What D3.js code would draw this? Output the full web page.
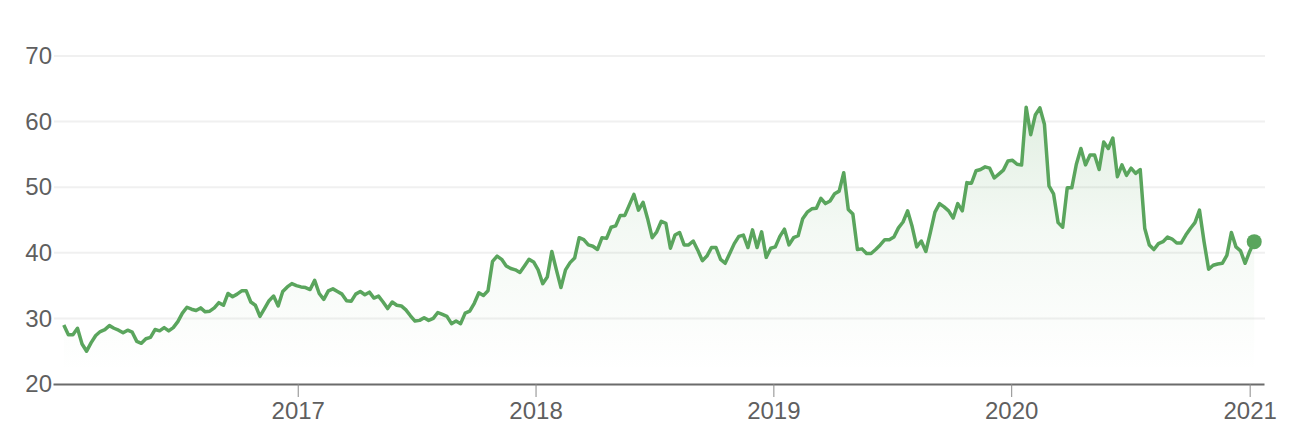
<!DOCTYPE html>
<html>
<head>
<meta charset="utf-8">
<script src="https://cdn.jsdelivr.net/npm/d3@7"></script>
<style>
  body { margin: 0; background: #fff; }
  svg { display: block; font-family: "Liberation Sans", Arial, sans-serif; }
</style>
</head>
<body>
<svg width="1294" height="442"></svg>
<script>
// weekly closes, one Friday per week starting 2016-01-08
const firstWeek = "2016-01-08";
const price2016 = [29.0, 27.5, 27.5, 28.5, 26.1, 25.0, 26.3, 27.4, 28.0, 28.3, 28.9, 28.5, 28.2, 27.8, 28.2, 27.9, 26.5, 26.2, 26.9, 27.1, 28.3, 28.1, 28.6, 28.1, 28.6, 29.5, 30.8, 31.7, 31.4, 31.2, 31.6, 31.0, 31.1, 31.6, 32.4, 32.0, 33.8, 33.3, 33.7, 34.2, 34.2, 32.5, 32.0, 30.3, 31.5, 32.7, 33.4, 31.9, 34.1, 34.8, 35.3, 35.0];
const price2017 = [34.8, 34.7, 34.4, 35.8, 33.8, 32.9, 34.2, 34.5, 34.1, 33.7, 32.7, 32.6, 33.7, 34.1, 33.6, 34.0, 33.1, 33.4, 32.5, 31.5, 32.5, 32.0, 31.9, 31.3, 30.4, 29.6, 29.7, 30.1, 29.7, 30.0, 30.9, 30.6, 30.3, 29.2, 29.6, 29.2, 30.8, 31.1, 32.3, 33.9, 33.5, 34.2, 38.7, 39.5, 39.0, 38.0, 37.6, 37.4, 37.0, 38.0, 39.0, 38.6];
const price2018 = [37.4, 35.3, 36.3, 40.2, 37.4, 34.7, 37.4, 38.5, 39.2, 42.3, 42.0, 41.2, 41.0, 40.5, 42.3, 42.2, 43.9, 44.1, 45.7, 45.7, 47.3, 48.9, 46.5, 47.7, 45.2, 42.3, 43.2, 44.8, 44.5, 40.7, 42.7, 43.1, 41.2, 41.2, 41.8, 40.4, 38.8, 39.5, 40.8, 40.8, 39.0, 38.4, 39.9, 41.4, 42.5, 42.7, 40.8, 43.5, 40.8, 43.2, 39.3, 40.7];
const price2019 = [40.9, 42.5, 43.6, 41.2, 42.3, 42.6, 45.2, 46.2, 46.7, 46.8, 48.3, 47.5, 47.9, 49.0, 49.4, 52.2, 46.6, 45.9, 40.5, 40.6, 39.9, 39.9, 40.5, 41.2, 42.0, 42.0, 42.4, 43.8, 44.7, 46.4, 44.0, 40.9, 41.8, 40.2, 43.1, 46.2, 47.5, 47.0, 46.4, 45.3, 47.5, 46.4, 50.7, 50.6, 52.5, 52.7, 53.1, 52.9, 51.4, 52.0, 52.6, 54.0];
const price2020 = [54.1, 53.5, 53.4, 62.2, 58.0, 61.0, 62.1, 59.6, 50.2, 49.0, 44.6, 43.9, 49.9, 49.9, 53.5, 55.9, 53.4, 54.9, 54.9, 52.7, 56.9, 55.9, 57.5, 51.6, 53.4, 51.8, 52.9, 52.1, 52.7, 43.7, 41.2, 40.5, 41.4, 41.7, 42.4, 42.1, 41.5, 41.5, 42.7, 43.7, 44.6, 46.5, 41.7, 37.5, 38.1, 38.3, 38.4, 39.6, 43.1, 40.9, 40.3, 38.4];
const price2021 = [40.2, 41.7];

const yTicks = [20, 30, 40, 50, 60, 70];
const yearTicks = ["2017", "2018", "2019", "2020", "2021"];

const values = [].concat(price2016, price2017, price2018, price2019, price2020, price2021);
const start = d3.timeParse("%Y-%m-%d")(firstWeek);
const weeks = d3.timeFriday.range(start, d3.timeFriday.offset(start, values.length));
const data = weeks.map((d, i) => ({ date: d, value: values[i] }));

const svg = d3.select("svg");
const mLeft = 53, mRight = 1264, mTop = 56, mBottom = 384;
const green = "#5aa55d";

const x = d3.scaleTime()
    .domain([new Date(2015, 11, 22, 10), new Date(2021, 0, 23)])
    .range([mLeft, mRight]);
const y = d3.scaleLinear().domain([20, 70]).range([mBottom, mTop]);

// gradient under the line
const grad = svg.append("defs").append("linearGradient")
    .attr("id", "fade")
    .attr("gradientUnits", "userSpaceOnUse")
    .attr("x1", 0).attr("x2", 0)
    .attr("y1", y(62)).attr("y2", y(22));
grad.append("stop").attr("offset", 0).attr("stop-color", green).attr("stop-opacity", 0.18);
grad.append("stop").attr("offset", 0.45).attr("stop-color", green).attr("stop-opacity", 0.07);
grad.append("stop").attr("offset", 1).attr("stop-color", green).attr("stop-opacity", 0.0);

// grid
svg.append("g")
    .selectAll("line")
    .data(yTicks.slice(1))
    .join("line")
    .attr("x1", mLeft + 1).attr("x2", mRight + 1)
    .attr("y1", d => y(d)).attr("y2", d => y(d))
    .attr("stroke", "#f0f0f0")
    .attr("stroke-width", 2);

// y labels
const yAxis = svg.append("g")
    .attr("transform", `translate(${mLeft},0)`)
    .call(d3.axisLeft(y).tickValues(yTicks).tickSize(0).tickPadding(1));
yAxis.select(".domain").remove();
yAxis.selectAll("text")
    .attr("fill", "#5f5f5f")
    .style("font-size", "24px")
    .style("font-family", "Liberation Sans, Arial, sans-serif");

// area + line
const area = d3.area()
    .x(d => x(d.date))
    .y0(y(20))
    .y1(d => y(d.value));
svg.append("path")
    .datum(data)
    .attr("d", area)
    .attr("fill", "url(#fade)");

const line = d3.line()
    .x(d => x(d.date))
    .y(d => y(d.value));
svg.append("path")
    .datum(data)
    .attr("d", line)
    .attr("fill", "none")
    .attr("stroke", green)
    .attr("stroke-width", 3.5)
    .attr("stroke-linejoin", "round");

// x axis
const parseYear = d3.timeParse("%Y");
const xAxis = svg.append("g")
    .attr("transform", `translate(0,${mBottom})`)
    .call(d3.axisBottom(x)
        .tickValues(yearTicks.map(parseYear))
        .tickFormat(d3.timeFormat("%Y"))
        .tickSize(13)
        .tickSizeOuter(0)
        .tickPadding(5));
xAxis.select(".domain")
    .attr("stroke", "#6b6b6b")
    .attr("stroke-width", 2);
xAxis.selectAll(".tick line").attr("stroke", "#8a8a8a");
xAxis.selectAll("text")
    .attr("fill", "#5f5f5f")
    .style("font-size", "24px")
    .style("font-family", "Liberation Sans, Arial, sans-serif");

// last point marker
const last = data[data.length - 1];
svg.append("circle")
    .attr("cx", x(last.date))
    .attr("cy", y(last.value))
    .attr("r", 7.5)
    .attr("fill", green);
</script>
</body>
</html>
